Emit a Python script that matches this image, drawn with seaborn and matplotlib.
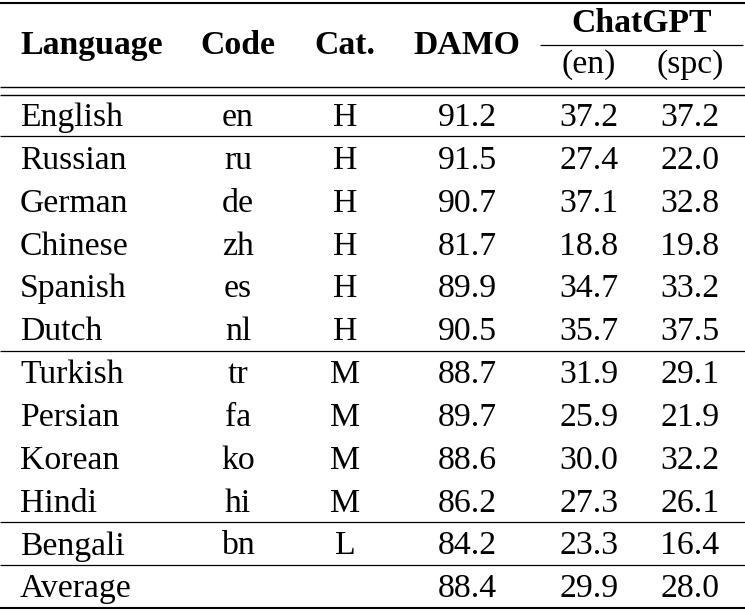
import matplotlib
matplotlib.use("Agg")
import matplotlib.pyplot as plt
import seaborn as sns

# table contents
languages = ["English", "Russian", "German", "Chinese", "Spanish", "Dutch",
             "Turkish", "Persian", "Korean", "Hindi", "Bengali", "Average"]
codes = ["en", "ru", "de", "zh", "es", "nl", "tr", "fa", "ko", "hi", "bn", ""]
cats = ["H", "H", "H", "H", "H", "H", "M", "M", "M", "M", "L", ""]
damo = [91.2, 91.5, 90.7, 81.7, 89.9, 90.5, 88.7, 89.7, 88.6, 86.2, 84.2, 88.4]
chatgpt_en = [37.2, 27.4, 37.1, 18.8, 34.7, 35.7, 31.9, 25.9, 30.0, 27.3, 23.3, 29.9]
chatgpt_spc = [37.2, 22.0, 32.8, 19.8, 33.2, 37.5, 29.1, 21.9, 32.2, 26.1, 16.4, 28.0]
# a rule is drawn after these row indices
group_ends = [0, 5, 9, 10]

sns.set_theme(style="white")
plt.rcParams["font.family"] = ["Liberation Serif", "DejaVu Serif"]
plt.rcParams["text.color"] = "black"

W, H = 745, 613
fig = plt.figure(figsize=(W / 100, H / 100), dpi=100)
ax = fig.add_axes([0, 0, 1, 1])
ax.set_xlim(0, W)
ax.set_ylim(H, 0)
ax.axis("off")

fs = 24.3
col_x = {"code": 238, "cat": 345, "damo": 467, "en": 589, "spc": 690}
x0, x1 = 0, W

# header
hdr = dict(fontsize=fs, fontweight="bold", va="baseline", color="black")
ax.text(20, 54, "Language", ha="left", **hdr)
ax.text(col_x["code"], 54, "Code", ha="center", **hdr)
ax.text(col_x["cat"], 54, "Cat.", ha="center", **hdr)
ax.text(col_x["damo"], 54, "DAMO", ha="center", **hdr)
ax.text(642, 32, "ChatGPT", ha="center", **hdr)
ax.text(col_x["en"], 73, "(en)", ha="center", va="baseline", fontsize=fs, color="black")
ax.text(col_x["spc"], 73, "(spc)", ha="center", va="baseline", fontsize=fs, color="black")

ax.plot([x0, x1], [2.5, 2.5], color="black", lw=1.5, solid_capstyle="butt")
ax.plot([540, 743], [44.5, 44.5], color="black", lw=0.9, solid_capstyle="butt")
ax.plot([x0, x1], [87, 87], color="black", lw=1.0, solid_capstyle="butt")
ax.plot([x0, x1], [94.5, 94.5], color="black", lw=1.0, solid_capstyle="butt")

# body
pitch = 42.85
y_first = 115
for i, lang in enumerate(languages):
    yc = y_first + i * pitch
    yb = yc + 11
    row = dict(va="baseline", fontsize=fs, color="black")
    ax.text(20, yb, lang, ha="left", **row)
    ax.text(col_x["code"], yb, codes[i], ha="center", **row)
    ax.text(col_x["cat"], yb, cats[i], ha="center", **row)
    ax.text(col_x["damo"], yb, f"{damo[i]:.1f}", ha="center", **row)
    ax.text(col_x["en"], yb, f"{chatgpt_en[i]:.1f}", ha="center", **row)
    ax.text(col_x["spc"], yb, f"{chatgpt_spc[i]:.1f}", ha="center", **row)
    if i in group_ends:
        yr = yc + pitch / 2
        ax.plot([x0, x1], [yr, yr], color="black", lw=0.9, solid_capstyle="butt")

y_bottom = y_first + (len(languages) - 1) * pitch + 22
ax.plot([x0, x1], [y_bottom, y_bottom], color="black", lw=1.5, solid_capstyle="butt")

fig.savefig("out.png", dpi=100, facecolor="white")
